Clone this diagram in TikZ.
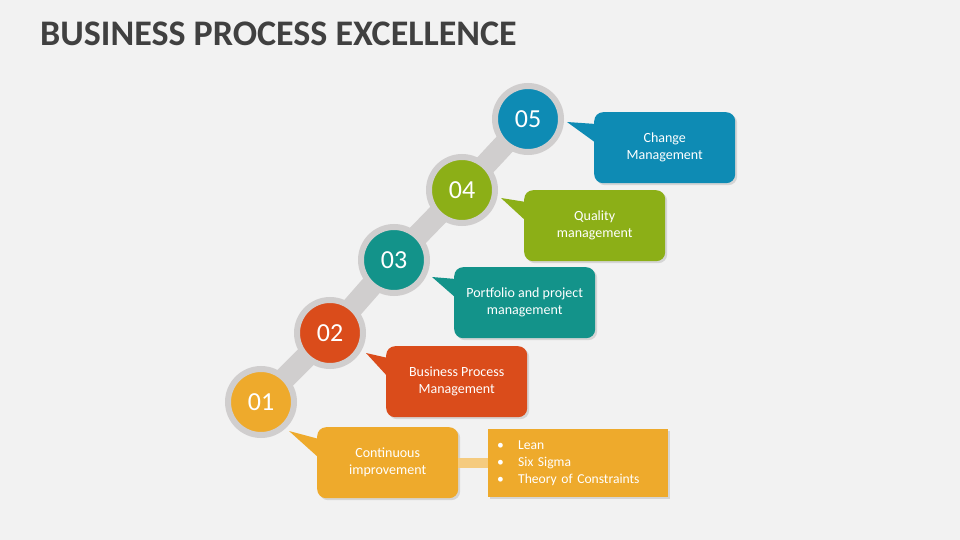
\documentclass[tikz,border=0pt]{standalone}
\usepackage{fontspec}
\setmainfont{Carlito}
\usetikzlibrary{shadows,backgrounds,calc}
\definecolor{bg}{HTML}{F2F2F2}
\definecolor{ring}{HTML}{D0CECE}
\definecolor{cA}{HTML}{EEAA2C}
\definecolor{cB}{HTML}{DA4C1B}
\definecolor{cC}{HTML}{13938A}
\definecolor{cD}{HTML}{8CAF17}
\definecolor{cE}{HTML}{0E8BB4}
\definecolor{titlec}{HTML}{404040}
\definecolor{linkc}{HTML}{F5CB7F}
\begin{document}
\begin{tikzpicture}[x=1pt,y=-1pt,
  numc/.style={circle,minimum size=66pt,inner sep=0pt,draw=ring,line width=6pt,
    text=white,font=\fontsize{26}{26}\selectfont},
  callbox/.style={rounded corners=9pt,minimum width=141pt,minimum height=71pt,
    inner sep=0pt,text=white,align=center,font=\fontsize{14}{17}\selectfont,
    drop shadow={opacity=0.25,shadow xshift=2pt,shadow yshift=-2pt}},
  bulbox/.style={minimum width=180pt,minimum height=68pt,inner xsep=9pt,inner ysep=0pt,
    text width=162pt,text=white,align=left,font=\fontsize{13.6}{17}\selectfont,
    drop shadow={opacity=0.25,shadow xshift=2pt,shadow yshift=-2pt}},
  titlef/.style={font=\bfseries\fontsize{36}{36}\selectfont,text=titlec,inner sep=0pt}
]
\begin{pgfonlayer}{background}
\fill[bg] (0,0) rectangle (960,540);
\end{pgfonlayer}

\node[titlef,anchor=base west] (title) at (40,46) {BUSINESS PROCESS EXCELLENCE};

% circles
\node[numc,fill=cA] (n1) at (261,402) {01};
\node[numc,fill=cB] (n2) at (330,333) {02};
\node[numc,fill=cC] (n3) at (394,260) {03};
\node[numc,fill=cD] (n4) at (462,190) {04};
\node[numc,fill=cE] (n5) at (528,119) {05};

\begin{pgfonlayer}{background}
\draw[ring,line width=22pt,line join=round] (n1.center) -- (n2.center) -- (n3.center) -- (n4.center) -- (n5.center);
\end{pgfonlayer}

% callout boxes
\node[callbox,fill=cA,anchor=north west] (b1) at (317,427) {Continuous\\improvement};
\node[callbox,fill=cB,anchor=north west] (b2) at (386,346) {Business Process\\Management};
\node[callbox,fill=cC,anchor=north west] (b3) at (454,267) {Portfolio and project\\management};
\node[callbox,fill=cD,anchor=north west] (b4) at (524,190) {Quality\\management};
\node[callbox,fill=cE,anchor=north west] (b5) at (594,112) {Change\\Management};

% pointer tips
\coordinate (t1) at (289,431);
\coordinate (t2) at (366,353);
\coordinate (t3) at (432,277);
\coordinate (t4) at (501,198);
\coordinate (t5) at (567,122);

\fill[cA] (t1) -- ($(b1.north west)+(2,12)$) -- ($(b1.north west)+(2,31)$) -- cycle;
\fill[cB] (t2) -- ($(b2.north west)+(2,12)$) -- ($(b2.north west)+(2,31)$) -- cycle;
\fill[cC] (t3) -- ($(b3.north west)+(2,12)$) -- ($(b3.north west)+(2,31)$) -- cycle;
\fill[cD] (t4) -- ($(b4.north west)+(2,12)$) -- ($(b4.north west)+(2,31)$) -- cycle;
\fill[cE] (t5) -- ($(b5.north west)+(2,12)$) -- ($(b5.north west)+(2,31)$) -- cycle;

% bullet box
\node[bulbox,fill=cA,anchor=north west] (bul) at (488,429)
  {\makebox[21pt][l]{\textbullet}Lean\\
   \makebox[21pt][l]{\textbullet}Six Sigma\\
   \makebox[21pt][l]{\textbullet}Theory of Constraints};
\draw[linkc,line width=10pt] (b1.east |- bul.west) -- (bul.west);
\end{tikzpicture}
\end{document}
